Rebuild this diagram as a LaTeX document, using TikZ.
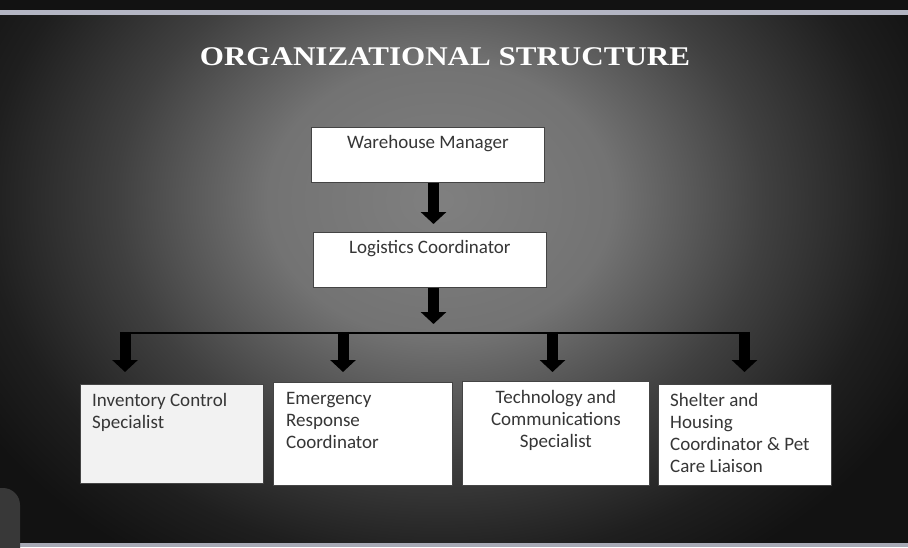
\documentclass[tikz,border=0pt]{standalone}
\usepackage{graphicx}
\usepackage{fontspec}
\setmainfont{Carlito}
\newfontfamily\titlefont{Liberation Serif}
\usetikzlibrary{arrows.meta,calc}
\definecolor{txt}{HTML}{363636}
\definecolor{barc}{HTML}{B3B5C3}
\definecolor{barb}{HTML}{A8AAB6}
\definecolor{tabc}{HTML}{383838}
\definecolor{bordc}{HTML}{444444}
\definecolor{fillA}{HTML}{F2F2F2}
\definecolor{basec}{HTML}{121212}
\pgfdeclareradialshading{bgshade}{\pgfpoint{0bp}{0bp}}{%
  rgb(0bp)=(0.50,0.50,0.50);
  rgb(8bp)=(0.45,0.45,0.45);
  rgb(15bp)=(0.25,0.25,0.25);
  rgb(21bp)=(0.12,0.12,0.12);
  rgb(25bp)=(0.07,0.07,0.07);
  rgb(50bp)=(0.07,0.07,0.07)}
\tikzset{
  orgbox/.style={draw=bordc, line width=0.8pt, fill=white, inner sep=0pt, anchor=north west},
  boxtext/.style={inner sep=0pt, text=txt, font=\fontsize{19}{22}\selectfont},
  bigarrow/.style={draw=black, line width=11pt, -{Triangle[width=25pt,length=12pt]}},
  hbar/.style={draw=black, line width=2.5pt},
  titletext/.style={text=white, inner sep=0pt, anchor=base, font=\titlefont\bfseries\fontsize{27}{30}\selectfont}
}
\begin{document}
\begin{tikzpicture}[x=1pt,y=-1pt]
\useasboundingbox (0,0) rectangle (908,547);
% background
\fill[basec] (0,0) rectangle (908,547);
\begin{scope}
  \clip (0,15) rectangle (908,543);
  \shade[shading=bgshade] (440,200) ellipse [x radius=540, y radius=430];
\end{scope}
\fill[barc] (0,10) rectangle (908,15);
\fill[barb] (20,543) rectangle (908,547);
\begin{scope}
  \clip (0,0) rectangle (908,547);
  \fill[tabc, rounded corners=17pt] (-30,488) rectangle (20,570);
\end{scope}
% title
\node[titletext] (title) at (445,65) {\scalebox{1.15}[1]{ORGANIZATIONAL STRUCTURE}};
% top boxes
\node[orgbox, minimum width=233pt, minimum height=55pt] (wm) at (311,127) {};
\node[boxtext, anchor=north] (wmt) at ($(wm.north)+(0,6)$) {\rule{0pt}{15pt}Warehouse Manager};
\node[orgbox, minimum width=233pt, minimum height=55pt] (lc) at (313,232) {};
\node[boxtext, anchor=north] (lct) at ($(lc.north)+(0,6)$) {\rule{0pt}{15pt}Logistics Coordinator};
% bottom boxes
\node[orgbox, fill=fillA, minimum width=183pt, minimum height=99pt] (b1) at (80,384) {};
\node[orgbox, minimum width=179pt, minimum height=103pt] (b2) at (273,382) {};
\node[orgbox, minimum width=187pt, minimum height=104pt] (b3) at (462,381) {};
\node[orgbox, minimum width=173pt, minimum height=101pt] (b4) at (658,384) {};
\node[boxtext, anchor=north west, align=left] (b1t) at ($(b1.north west)+(12,7)$) {\rule{0pt}{15pt}Inventory Control\\Specialist};
\node[boxtext, anchor=north west, align=left] (b2t) at ($(b2.north west)+(13,7)$) {\rule{0pt}{15pt}Emergency\\Response\\Coordinator};
\node[boxtext, anchor=north, align=center] (b3t) at ($(b3.north)+(0,7)$) {\rule{0pt}{15pt}Technology and\\Communications\\Specialist};
\node[boxtext, anchor=north west, align=left] (b4t) at ($(b4.north west)+(12,7)$) {\rule{0pt}{15pt}Shelter and\\Housing\\Coordinator \& Pet\\Care Liaison};
% connectors
\coordinate (ax) at (433.5,0);
\coordinate (bar) at (433.5,333);
\coordinate (d1) at (125,333);
\coordinate (d2) at (343,333);
\coordinate (d3) at (552.5,333);
\coordinate (d4) at (744.5,333);
\draw[bigarrow, shorten >=8pt] (ax |- wm.south) -- (ax |- lc.north);
\draw[bigarrow, shorten >=9pt] (ax |- lc.south) -- (bar);
\draw[hbar] (d1) -- (d4);
\draw[bigarrow, shorten <=-1.25pt, shorten >=12pt] (d1) -- (d1 |- b1.north);
\draw[bigarrow, shorten <=-1.25pt, shorten >=10pt] (d2) -- (d2 |- b2.north);
\draw[bigarrow, shorten <=-1.25pt, shorten >=9pt] (d3) -- (d3 |- b3.north);
\draw[bigarrow, shorten <=-1.25pt, shorten >=12pt] (d4) -- (d4 |- b4.north);
\end{tikzpicture}
\end{document}
